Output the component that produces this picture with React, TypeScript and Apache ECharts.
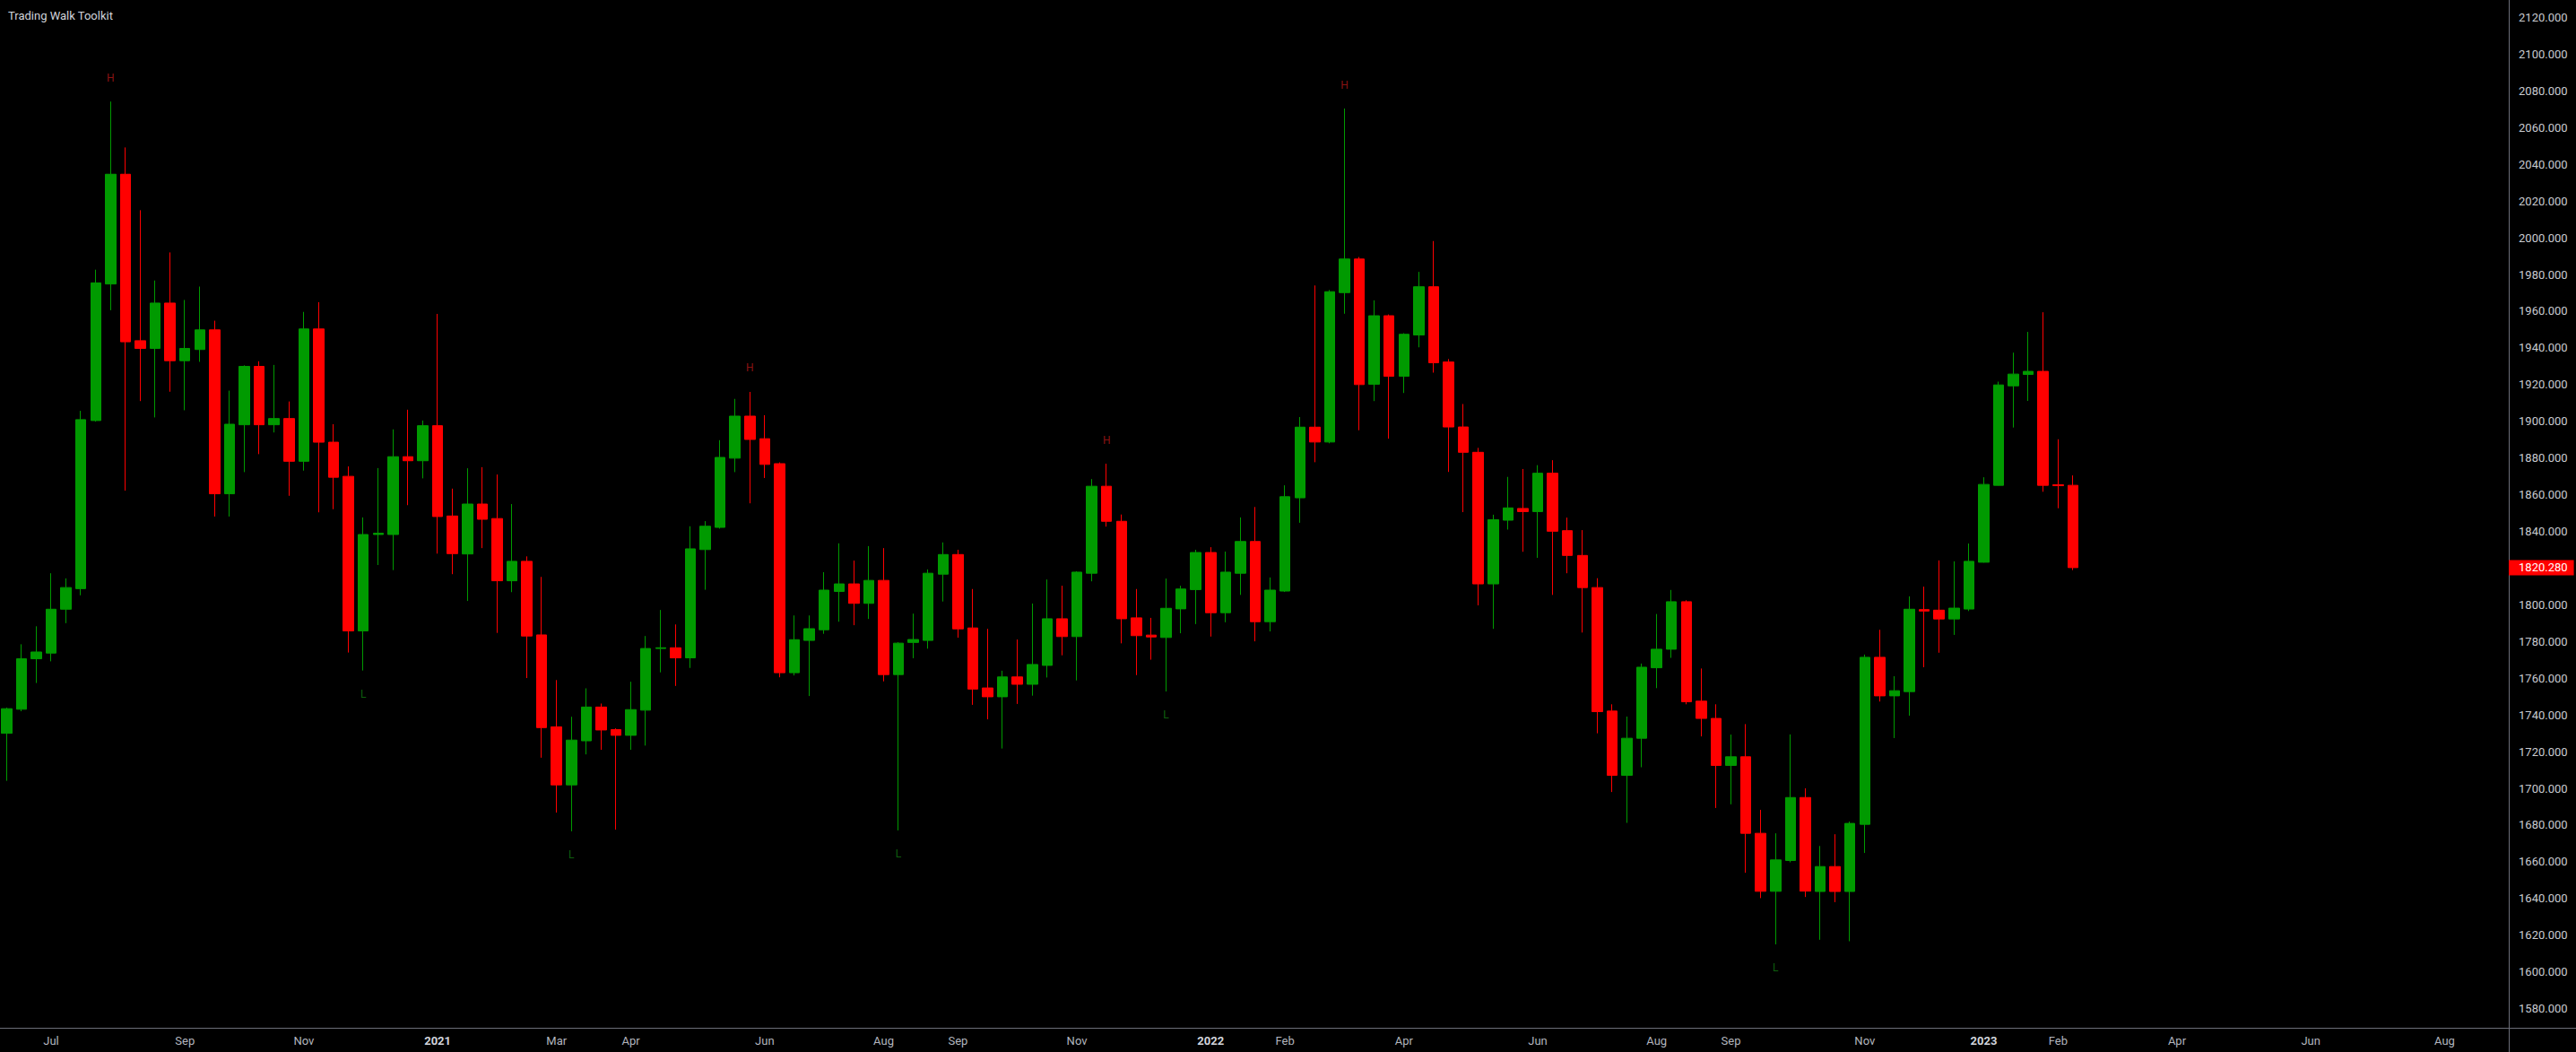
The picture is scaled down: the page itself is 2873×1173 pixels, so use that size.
import React, { useEffect, useRef } from "react";
import * as echarts from "echarts";

// Weekly categories (Monday of each week), data + empty future weeks on the right
const FIRST_WEEK_UTC = Date.UTC(2020, 5, 15);
const WEEK_COUNT = 169;
const categories: string[] = Array.from({ length: WEEK_COUNT }, (_, i) =>
  new Date(FIRST_WEEK_UTC + i * 7 * 86400000).toISOString().slice(0, 10)
);

// Time-axis tick labels
const tickDates = [
  "2020-07-06", "2020-09-07", "2020-11-02", "2021-01-04", "2021-03-01", "2021-04-05",
  "2021-06-07", "2021-08-02", "2021-09-06", "2021-11-01", "2022-01-03", "2022-02-07",
  "2022-04-04", "2022-06-06", "2022-08-01", "2022-09-05", "2022-11-07", "2023-01-02",
  "2023-02-06", "2023-04-03", "2023-06-05", "2023-08-07",
];
const tickLabels = [
  "Jul", "Sep", "Nov", "2021", "Mar", "Apr", "Jun", "Aug", "Sep", "Nov", "2022", "Feb",
  "Apr", "Jun", "Aug", "Sep", "Nov", "2023", "Feb", "Apr", "Jun", "Aug",
];

// OHLC values (weekly)
const opens = [
  1730.0, 1743.1, 1770.6, 1773.7, 1797.6, 1808.8, 1900.4, 1974.8, 2034.6, 1943.9,
  1939.7, 1964.4, 1933.0, 1939.1, 1949.8, 1860.5, 1898.1, 1929.9, 1898.1, 1901.5,
  1878.2, 1950.3, 1888.6, 1870.0, 1785.8, 1838.3, 1838.3, 1880.7, 1878.5, 1897.6,
  1848.4, 1827.7, 1854.9, 1847.0, 1813.1, 1823.7, 1783.6, 1733.5, 1701.9, 1725.9,
  1744.3, 1732.0, 1728.9, 1742.6, 1776.2, 1776.6, 1771.1, 1830.1, 1842.2, 1879.9,
  1902.8, 1890.5, 1876.9, 1763.0, 1780.6, 1786.4, 1807.3, 1811.4, 1800.8, 1813.3,
  1762.0, 1779.5, 1780.6, 1816.7, 1827.4, 1787.4, 1754.7, 1749.9, 1760.7, 1756.7,
  1767.0, 1792.4, 1782.7, 1817.2, 1864.6, 1845.5, 1792.9, 1783.5, 1782.2, 1797.8,
  1808.3, 1828.5, 1795.7, 1817.2, 1834.5, 1790.8, 1807.5, 1858.3, 1896.8, 1888.7,
  1970.1, 1988.4, 1920.2, 1957.5, 1924.5, 1947.0, 1973.3, 1932.3, 1896.9, 1883.1,
  1811.4, 1846.1, 1852.5, 1850.8, 1871.7, 1840.4, 1826.9, 1809.4, 1742.1, 1707.1,
  1727.3, 1765.7, 1775.8, 1801.7, 1747.5, 1738.1, 1712.5, 1717.2, 1675.5, 1643.9,
  1660.7, 1695.0, 1643.8, 1657.4, 1643.8, 1680.4, 1771.4, 1750.4, 1752.7, 1797.4,
  1797.1, 1792.3, 1797.7, 1823.2, 1865.1, 1919.3, 1925.5, 1927.2, 1865.4, 1865.1,
];
const highs = [
  1744.0, 1778.5, 1788.3, 1817.2, 1814.4, 1905.7, 1982.6, 2074.2, 2049.2, 2015.0,
  1976.7, 1992.0, 1966.1, 1973.4, 1954.8, 1916.7, 1930.5, 1932.7, 1930.7, 1910.8,
  1959.6, 1964.9, 1898.4, 1875.4, 1847.6, 1874.5, 1895.6, 1906.3, 1900.4, 1958.5,
  1863.3, 1874.4, 1875.0, 1871.0, 1854.9, 1826.4, 1815.2, 1759.0, 1739.0, 1754.5,
  1746.2, 1732.7, 1758.1, 1783.0, 1797.2, 1789.3, 1842.8, 1845.6, 1889.7, 1912.2,
  1916.0, 1903.3, 1877.6, 1794.2, 1794.2, 1817.8, 1833.5, 1824.1, 1832.0, 1830.9,
  1779.6, 1795.2, 1819.3, 1834.0, 1830.0, 1808.6, 1786.9, 1764.1, 1781.1, 1800.7,
  1813.8, 1810.4, 1818.3, 1868.5, 1876.9, 1849.2, 1808.6, 1792.9, 1814.3, 1810.4,
  1830.0, 1831.4, 1829.0, 1847.6, 1853.3, 1814.9, 1865.1, 1902.3, 1974.0, 1971.5,
  2070.4, 1989.5, 1965.9, 1958.2, 1948.0, 1981.4, 1998.2, 1933.9, 1909.4, 1885.5,
  1849.1, 1869.7, 1874.0, 1876.1, 1878.8, 1847.5, 1840.7, 1814.5, 1745.8, 1739.1,
  1768.0, 1795.0, 1808.1, 1802.5, 1765.3, 1745.8, 1729.3, 1735.0, 1688.3, 1675.5,
  1729.4, 1700.0, 1668.6, 1675.0, 1681.9, 1772.9, 1786.4, 1761.1, 1804.6, 1809.9,
  1824.2, 1823.7, 1833.4, 1869.5, 1921.6, 1937.4, 1948.7, 1959.4, 1890.2, 1870.5,
];
const lows = [
  1704.1, 1742.0, 1757.4, 1769.2, 1790.0, 1805.2, 1899.8, 1960.5, 1862.2, 1911.0,
  1902.1, 1916.1, 1906.0, 1932.4, 1848.1, 1848.1, 1872.3, 1882.1, 1893.9, 1859.4,
  1873.1, 1850.4, 1852.1, 1774.0, 1764.2, 1821.7, 1818.9, 1854.3, 1868.9, 1827.9,
  1816.7, 1802.1, 1830.9, 1784.7, 1806.9, 1760.1, 1716.7, 1686.8, 1676.6, 1718.5,
  1721.0, 1677.5, 1721.0, 1723.3, 1763.2, 1755.8, 1765.6, 1808.2, 1841.5, 1872.3,
  1855.3, 1869.1, 1760.5, 1761.5, 1750.3, 1784.2, 1790.8, 1788.9, 1792.3, 1758.3,
  1677.1, 1770.9, 1776.1, 1801.8, 1782.1, 1745.5, 1737.6, 1721.7, 1746.0, 1750.5,
  1760.4, 1772.5, 1758.8, 1812.8, 1842.6, 1779.0, 1761.7, 1770.1, 1752.8, 1784.5,
  1789.5, 1782.7, 1790.5, 1805.4, 1780.1, 1785.5, 1807.0, 1844.7, 1877.7, 1888.0,
  1958.6, 1895.1, 1911.0, 1890.5, 1915.4, 1940.3, 1926.5, 1872.4, 1850.5, 1799.7,
  1786.9, 1841.0, 1828.9, 1825.6, 1805.4, 1817.2, 1784.9, 1730.0, 1698.0, 1681.2,
  1711.5, 1754.6, 1771.1, 1745.8, 1728.3, 1689.3, 1691.3, 1654.0, 1640.2, 1615.0,
  1659.7, 1640.8, 1617.5, 1638.0, 1616.7, 1664.8, 1747.3, 1727.4, 1739.6, 1766.0,
  1773.9, 1783.6, 1796.6, 1823.0, 1865.0, 1896.6, 1911.1, 1861.6, 1852.6, 1818.9,
];
const closes = [
  1743.4, 1770.6, 1774.3, 1797.6, 1809.4, 1900.9, 1975.4, 2034.6, 1943.3, 1939.7,
  1964.4, 1933.0, 1939.7, 1949.8, 1860.5, 1898.4, 1929.9, 1898.1, 1901.5, 1878.2,
  1950.3, 1888.6, 1869.5, 1785.8, 1838.3, 1839.0, 1880.7, 1878.5, 1897.6, 1848.1,
  1827.9, 1854.9, 1846.6, 1813.1, 1823.7, 1783.0, 1733.1, 1701.9, 1726.3, 1744.3,
  1731.8, 1728.9, 1742.9, 1776.2, 1776.6, 1771.1, 1830.5, 1842.8, 1880.3, 1902.8,
  1890.1, 1876.5, 1763.0, 1781.0, 1787.0, 1808.0, 1811.4, 1800.8, 1813.3, 1762.0,
  1779.1, 1781.1, 1817.2, 1827.4, 1786.9, 1754.1, 1749.9, 1760.7, 1756.7, 1767.5,
  1792.4, 1782.7, 1817.8, 1864.6, 1845.5, 1792.4, 1783.2, 1782.5, 1798.1, 1808.6,
  1828.5, 1795.7, 1817.8, 1834.5, 1790.8, 1808.0, 1858.9, 1896.8, 1888.7, 1970.6,
  1988.4, 1920.0, 1957.5, 1924.5, 1947.4, 1973.3, 1931.9, 1896.9, 1883.1, 1811.4,
  1846.4, 1852.8, 1850.8, 1871.7, 1840.1, 1826.9, 1809.4, 1741.8, 1707.1, 1727.3,
  1766.0, 1775.8, 1801.7, 1747.2, 1738.1, 1712.5, 1717.2, 1675.5, 1643.9, 1661.0,
  1695.0, 1644.0, 1657.4, 1643.8, 1680.9, 1771.4, 1750.4, 1753.2, 1797.6, 1796.6,
  1792.3, 1798.2, 1823.7, 1865.6, 1919.8, 1925.7, 1927.2, 1865.1, 1864.9, 1820.28,
];

// Pivot markers (bar indices)
const pivotHighIndices = [7, 50, 74, 90];
const pivotLowIndices = [24, 38, 60, 78, 119];

// Price scale
const yMin = 1560;
const yMax = 2140;
const yStep = 20;

const FONT = "Roboto, 'Liberation Sans', Arial, sans-serif";
const UP = "#009a00";
const DOWN = "#ff0000";
const AXIS = "#6b6e78";
const TEXT = "#c9cbd1";

// The chart canvas is shifted up/left so that the off-screen 2140 tick fits inside it
const SHIFT_X = 1;
const SHIFT_Y = 22;
const PAGE_W = 2873;
const PAGE_H = 1173;

export default function App() {
  const ref = useRef<HTMLDivElement>(null);

  useEffect(() => {
    document.body.style.margin = "0";
    document.body.style.background = "#000";
    document.body.style.overflow = "hidden";
    if (!ref.current) return;
    const chart = echarts.init(ref.current, undefined, { renderer: "svg" });

    const candleData = opens.map((o, i) => [o, closes[i], lows[i], highs[i]]);
    const tickIndex = new Map<number, string>();
    tickDates.forEach((d, k) => tickIndex.set(categories.indexOf(d), tickLabels[k]));
    const lastClose = closes[closes.length - 1];

    // pixel layout (page coordinates) derived from the reference
    const pxPerUnit = 2.0465;
    const y2120 = 19.5;
    const gridTop = y2120 - (yMax - 2120) * pxPerUnit + SHIFT_Y;
    const gridBottom = y2120 + (2120 - yMin) * pxPerUnit + SHIFT_Y;
    const slot = 16.58;
    const gridLeft = -1 + SHIFT_X;
    const gridWidth = WEEK_COUNT * slot;
    const axisY = 1146 + SHIFT_Y;
    const sepX = 2798 + SHIFT_X;

    const option: any = {
      animation: false,
      backgroundColor: "#000000",
      title: {
        text: "Trading Walk Toolkit",
        left: 4 + SHIFT_X,
        top: 6 + SHIFT_Y,
        textStyle: { color: "#d1d4dc", fontSize: 13, fontWeight: "normal", fontFamily: FONT, lineHeight: 13 },
      },
      grid: [
        { left: gridLeft, top: gridTop, width: gridWidth, height: gridBottom - gridTop },
        { left: gridLeft, top: SHIFT_Y, width: gridWidth, height: axisY - SHIFT_Y },
      ],
      xAxis: [
        { type: "category", gridIndex: 0, data: categories, show: false, boundaryGap: true },
        {
          type: "category",
          gridIndex: 1,
          data: categories,
          boundaryGap: true,
          axisLine: { onZero: false, lineStyle: { color: AXIS, width: 1 } },
          axisTick: { show: false },
          splitLine: { show: false },
          axisLabel: {
            interval: (index: number) => tickIndex.has(index),
            margin: 8,
            formatter: (_v: string, index: number) => {
              const t = tickIndex.get(index) || "";
              return /^\d{4}$/.test(t) ? `{y|${t}}` : `{m|${t}}`;
            },
            rich: {
              y: { color: "#d1d4dc", fontSize: 13, fontWeight: "bold", fontFamily: FONT },
              m: { color: "#b2b5be", fontSize: 13, fontFamily: FONT },
            },
          },
        },
      ],
      yAxis: [
        {
          type: "value",
          gridIndex: 0,
          position: "right",
          min: yMin,
          max: yMax,
          interval: yStep,
          offset: -3,
          scale: true,
          axisLine: { show: false },
          axisTick: { show: false },
          splitLine: { show: false },
          axisLabel: {
            showMinLabel: false,
            showMaxLabel: false,
            margin: 11,
            color: TEXT,
            fontSize: 13,
            fontFamily: FONT,
            formatter: (v: number) => v.toFixed(3),
          },
        },
        { type: "value", gridIndex: 1, show: false },
      ],
      series: [
        {
          type: "candlestick",
          xAxisIndex: 0,
          yAxisIndex: 0,
          data: candleData,
          barWidth: 12,
          itemStyle: {
            color: UP,
            color0: DOWN,
            borderColor: UP,
            borderColor0: DOWN,
            borderWidth: 1,
          },
          markLine: {
            silent: true,
            symbol: "none",
            lineStyle: { color: "rgba(0,0,0,0)", width: 0 },
            label: {
              show: true,
              position: "end",
              distance: -3,
              formatter: () => lastClose.toFixed(3),
              backgroundColor: "#ff0000",
              color: "#ffffff",
              fontSize: 13,
              fontFamily: FONT,
              lineHeight: 14,
              padding: [2, 7, 1, 11],
            },
            data: [{ yAxis: lastClose }],
          },
        },
        {
          type: "scatter",
          xAxisIndex: 0,
          yAxisIndex: 0,
          symbol: "circle",
          symbolSize: 1,
          itemStyle: { color: "rgba(0,0,0,0)" },
          silent: true,
          data: pivotHighIndices.map((i) => [categories[i], highs[i]]),
          label: {
            show: true,
            position: "top",
            distance: 20,
            formatter: "H",
            color: "#b01818",
            fontSize: 12,
            fontFamily: FONT,
          },
        },
        {
          type: "scatter",
          xAxisIndex: 0,
          yAxisIndex: 0,
          symbol: "circle",
          symbolSize: 1,
          itemStyle: { color: "rgba(0,0,0,0)" },
          silent: true,
          data: pivotLowIndices.map((i) => [categories[i], lows[i]]),
          label: {
            show: true,
            position: "bottom",
            distance: 20,
            formatter: "L",
            color: "#127a12",
            fontSize: 12,
            fontFamily: FONT,
          },
        },
      ],
      graphic: [
        {
          type: "line",
          silent: true,
          z: 0,
          shape: { x1: sepX, y1: axisY + 0.5, x2: PAGE_W + SHIFT_X, y2: axisY + 0.5 },
          style: { stroke: AXIS, lineWidth: 1 },
        },
        {
          type: "line",
          silent: true,
          z: 0,
          shape: { x1: sepX + 0.5, y1: SHIFT_Y, x2: sepX + 0.5, y2: PAGE_H + SHIFT_Y },
          style: { stroke: AXIS, lineWidth: 1 },
        },
      ],
    };

    chart.setOption(option);
    return () => chart.dispose();
  }, []);

  return (
    <div
      ref={ref}
      style={{
        position: "absolute",
        left: -SHIFT_X,
        top: -SHIFT_Y,
        width: PAGE_W + SHIFT_X,
        height: PAGE_H + SHIFT_Y,
        background: "#000",
      }}
    />
  );
}
